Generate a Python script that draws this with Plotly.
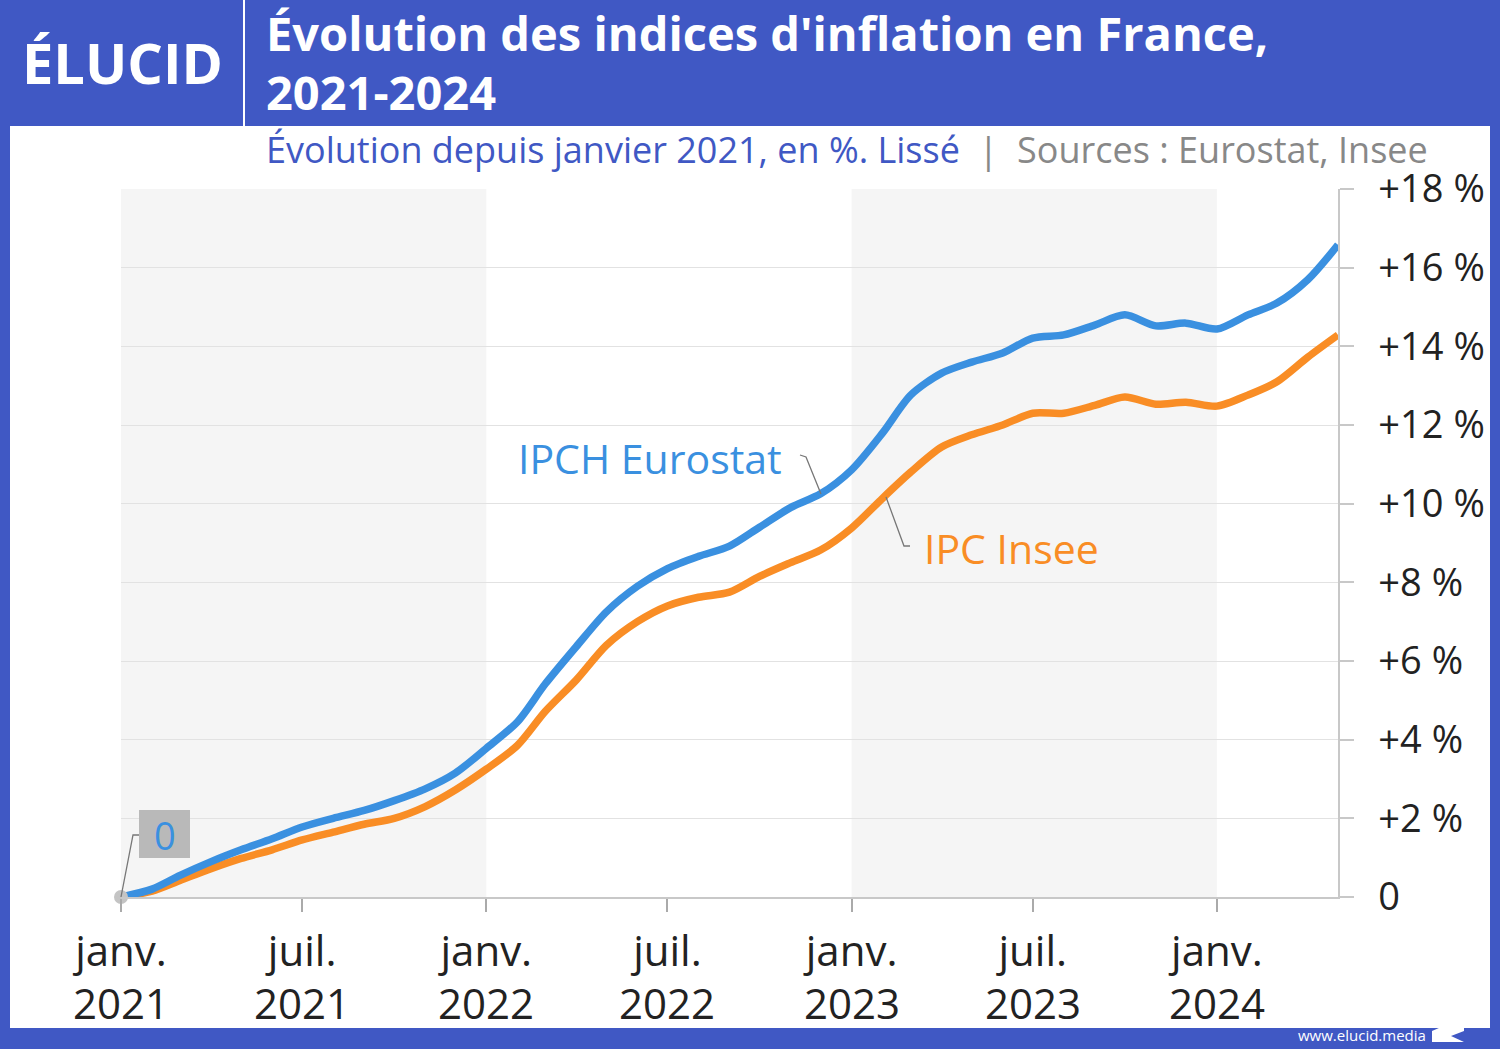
import pandas as pd
import plotly.graph_objects as go

# ---------------- data ----------------
months = list(pd.date_range("2021-01-01", "2024-05-01", freq="MS").strftime("%Y-%m-%d"))
ipch_eurostat = [0, 0.2, 0.55, 0.9, 1.2, 1.48, 1.78, 2.0, 2.2, 2.45, 2.75, 3.15,
                 3.78, 4.45, 5.42, 6.37, 7.25, 7.9, 8.35, 8.66, 8.92, 9.4, 9.9, 10.25,
                 10.86, 11.8, 12.76, 13.32, 13.6, 13.83, 14.21, 14.29, 14.54, 14.8, 14.52, 14.59,
                 14.44, 14.8, 15.1, 15.7, 16.58]
ipc_insee = [0, 0.15, 0.42, 0.72, 0.98, 1.2, 1.45, 1.65, 1.85, 2.0, 2.3, 2.72,
             3.25, 3.85, 4.72, 5.52, 6.4, 7.0, 7.4, 7.62, 7.75, 8.15, 8.5, 8.82,
             9.38, 10.14, 10.8, 11.44, 11.75, 12.0, 12.3, 12.3, 12.5, 12.71, 12.53, 12.58,
             12.48, 12.76, 13.1, 13.73, 14.29]
x_tickvals = ["2021-01-01", "2021-07-01", "2022-01-01", "2022-07-01",
              "2023-01-01", "2023-07-01", "2024-01-01"]
x_tick_months = ["janv.", "juil.", "janv.", "juil.", "janv.", "juil.", "janv."]
x_tick_years = ["2021", "2021", "2022", "2022", "2023", "2023", "2024"]
y_tickvals = [0, 2, 4, 6, 8, 10, 12, 14, 16, 18]
y_ticktext = ["0", "+2 %", "+4 %", "+6 %", "+8 %", "+10 %", "+12 %", "+14 %", "+16 %", "+18 %"]
shaded_years = [("2021-01-01", "2022-01-01"), ("2023-01-01", "2024-01-01")]

# ---------------- style ----------------
W, H = 1500, 1049
L, R, T, B = 121, 1338, 189, 897
BLUE_BG = "#4058c4"
C_IPCH = "#3a90e0"
C_IPC = "#f98d25"
FONT = "Open Sans"
DARK = "#222222"


def PX(x):
    return (x - L) / (R - L)


def PY(y):
    return (B - y) / (B - T)


fig = go.Figure()
fig.add_trace(go.Scatter(x=months, y=ipc_insee, mode="lines", name="IPC Insee",
                         line=dict(color=C_IPC, width=7.5, shape="spline", smoothing=0.8),
                         hoverinfo="skip"))
fig.add_trace(go.Scatter(x=months, y=ipch_eurostat, mode="lines", name="IPCH Eurostat",
                         line=dict(color=C_IPCH, width=7.5, shape="spline", smoothing=0.8),
                         hoverinfo="skip"))
# origin dot
fig.add_trace(go.Scatter(x=[months[0]], y=[0], mode="markers", cliponaxis=False,
                         marker=dict(color="#c4c4c4", size=14), hoverinfo="skip"))

shapes = []
# white panel
shapes.append(dict(type="rect", xref="paper", yref="paper", layer="below",
                   x0=PX(10), x1=PX(1490), y0=PY(1028), y1=PY(126),
                   fillcolor="white", line=dict(width=0)))
for a, b in shaded_years:
    shapes.append(dict(type="rect", xref="x", yref="paper", layer="below",
                       x0=a, x1=b, y0=0, y1=1, fillcolor="#f5f5f5", line=dict(width=0)))
# header separator
shapes.append(dict(type="line", xref="paper", yref="paper",
                   x0=PX(244), x1=PX(244), y0=PY(0), y1=PY(126),
                   line=dict(color="white", width=2)))


def path(pts):
    return "M " + " L ".join(f"{PX(x)},{PY(y)}" for x, y in pts)


# leader lines
for pts in ([(800, 455), (806, 457), (821, 494)],
            [(886, 497), (904, 546), (910, 546)],
            [(121, 897), (133, 835), (139, 835)]):
    shapes.append(dict(type="path", xref="paper", yref="paper", path=path(pts),
                       line=dict(color="#777777", width=1.3)))
# "0" label box
shapes.append(dict(type="rect", xref="paper", yref="paper",
                   x0=PX(139), x1=PX(190), y0=PY(858), y1=PY(810),
                   fillcolor="#b9b9b9", line=dict(width=0)))
# footer flag
shapes.append(dict(type="path", xref="paper", yref="paper",
                   path=path([(1432, 1031), (1464, 1017), (1464, 1031), (1451, 1036),
                              (1464, 1042), (1432, 1042)]) + " Z",
                   fillcolor="white", line=dict(width=0)))

ann = []


def txt(x, y, s, size, color, xanchor="left", bold=False, xref="paper"):
    ann.append(dict(xref=xref, yref="paper", x=(PX(x) if xref == "paper" else x), y=PY(y),
                    text=(f"<b>{s}</b>" if bold else s),
                    showarrow=False, xanchor=xanchor, yanchor="middle",
                    font=dict(family=FONT, size=size, color=color)))


txt(20, 62, "ÉLUCID", 56, "white", bold=True)
txt(264, 33, "Évolution des indices d'inflation en France,", 47, "white", bold=True)
txt(264, 92, "2021-2024", 47, "white", bold=True)
ann.append(dict(xref="paper", yref="paper", x=PX(264), y=PY(149), showarrow=False,
                xanchor="left", yanchor="middle",
                text=f"<span style='color:{BLUE_BG}'>Évolution depuis janvier 2021, en %. Lissé</span>"
                     f"<span style='color:#888888'>  |  Sources : Eurostat, Insee</span>",
                font=dict(family=FONT, size=36, color="#888888")))
txt(516, 458, "IPCH Eurostat", 41, C_IPCH)
txt(922, 548, "IPC Insee", 41, C_IPC)
txt(164.5, 835, "0", 38, C_IPCH, xanchor="center")
txt(1428, 1035, "www.elucid.media", 15, "white", xanchor="right")
for xv, yr in zip(x_tickvals, x_tick_years):
    txt(xv, 1002, yr, 42, DARK, xanchor="center", xref="x")

fig.update_layout(
    width=W, height=H,
    margin=dict(l=L, r=W - R, t=T, b=H - B, pad=0),
    paper_bgcolor=BLUE_BG, plot_bgcolor="rgba(0,0,0,0)",
    showlegend=False,
    shapes=shapes, annotations=ann,
    font=dict(family=FONT, color=DARK),
)
fig.update_xaxes(type="date", range=["2021-01-01", "2024-05-01"],
                 tickvals=x_tickvals, ticktext=x_tick_months,
                 tickfont=dict(family=FONT, size=42, color=DARK),
                 showgrid=False, zeroline=False,
                 showline=True, linecolor="#c8c8c8", linewidth=1.5,
                 ticks="outside", ticklen=13, tickcolor="#aaaaaa", tickwidth=1.5,
                 ticklabelstandoff=4)
fig.update_yaxes(range=[0, 18], side="right", tickvals=y_tickvals, ticktext=y_ticktext,
                 tickfont=dict(family=FONT, size=38, color=DARK),
                 showgrid=True, gridcolor="#e2e2e2", gridwidth=1, zeroline=False,
                 showline=True, linecolor="#c8c8c8", linewidth=1.5,
                 ticks="outside", ticklen=14, tickcolor="#c8c8c8", tickwidth=1.5,
                 ticklabelstandoff=17)

fig.write_html("out.html", config={"displayModeBar": False},
               post_script="document.body.style.margin='0';document.body.style.overflow='hidden';")
